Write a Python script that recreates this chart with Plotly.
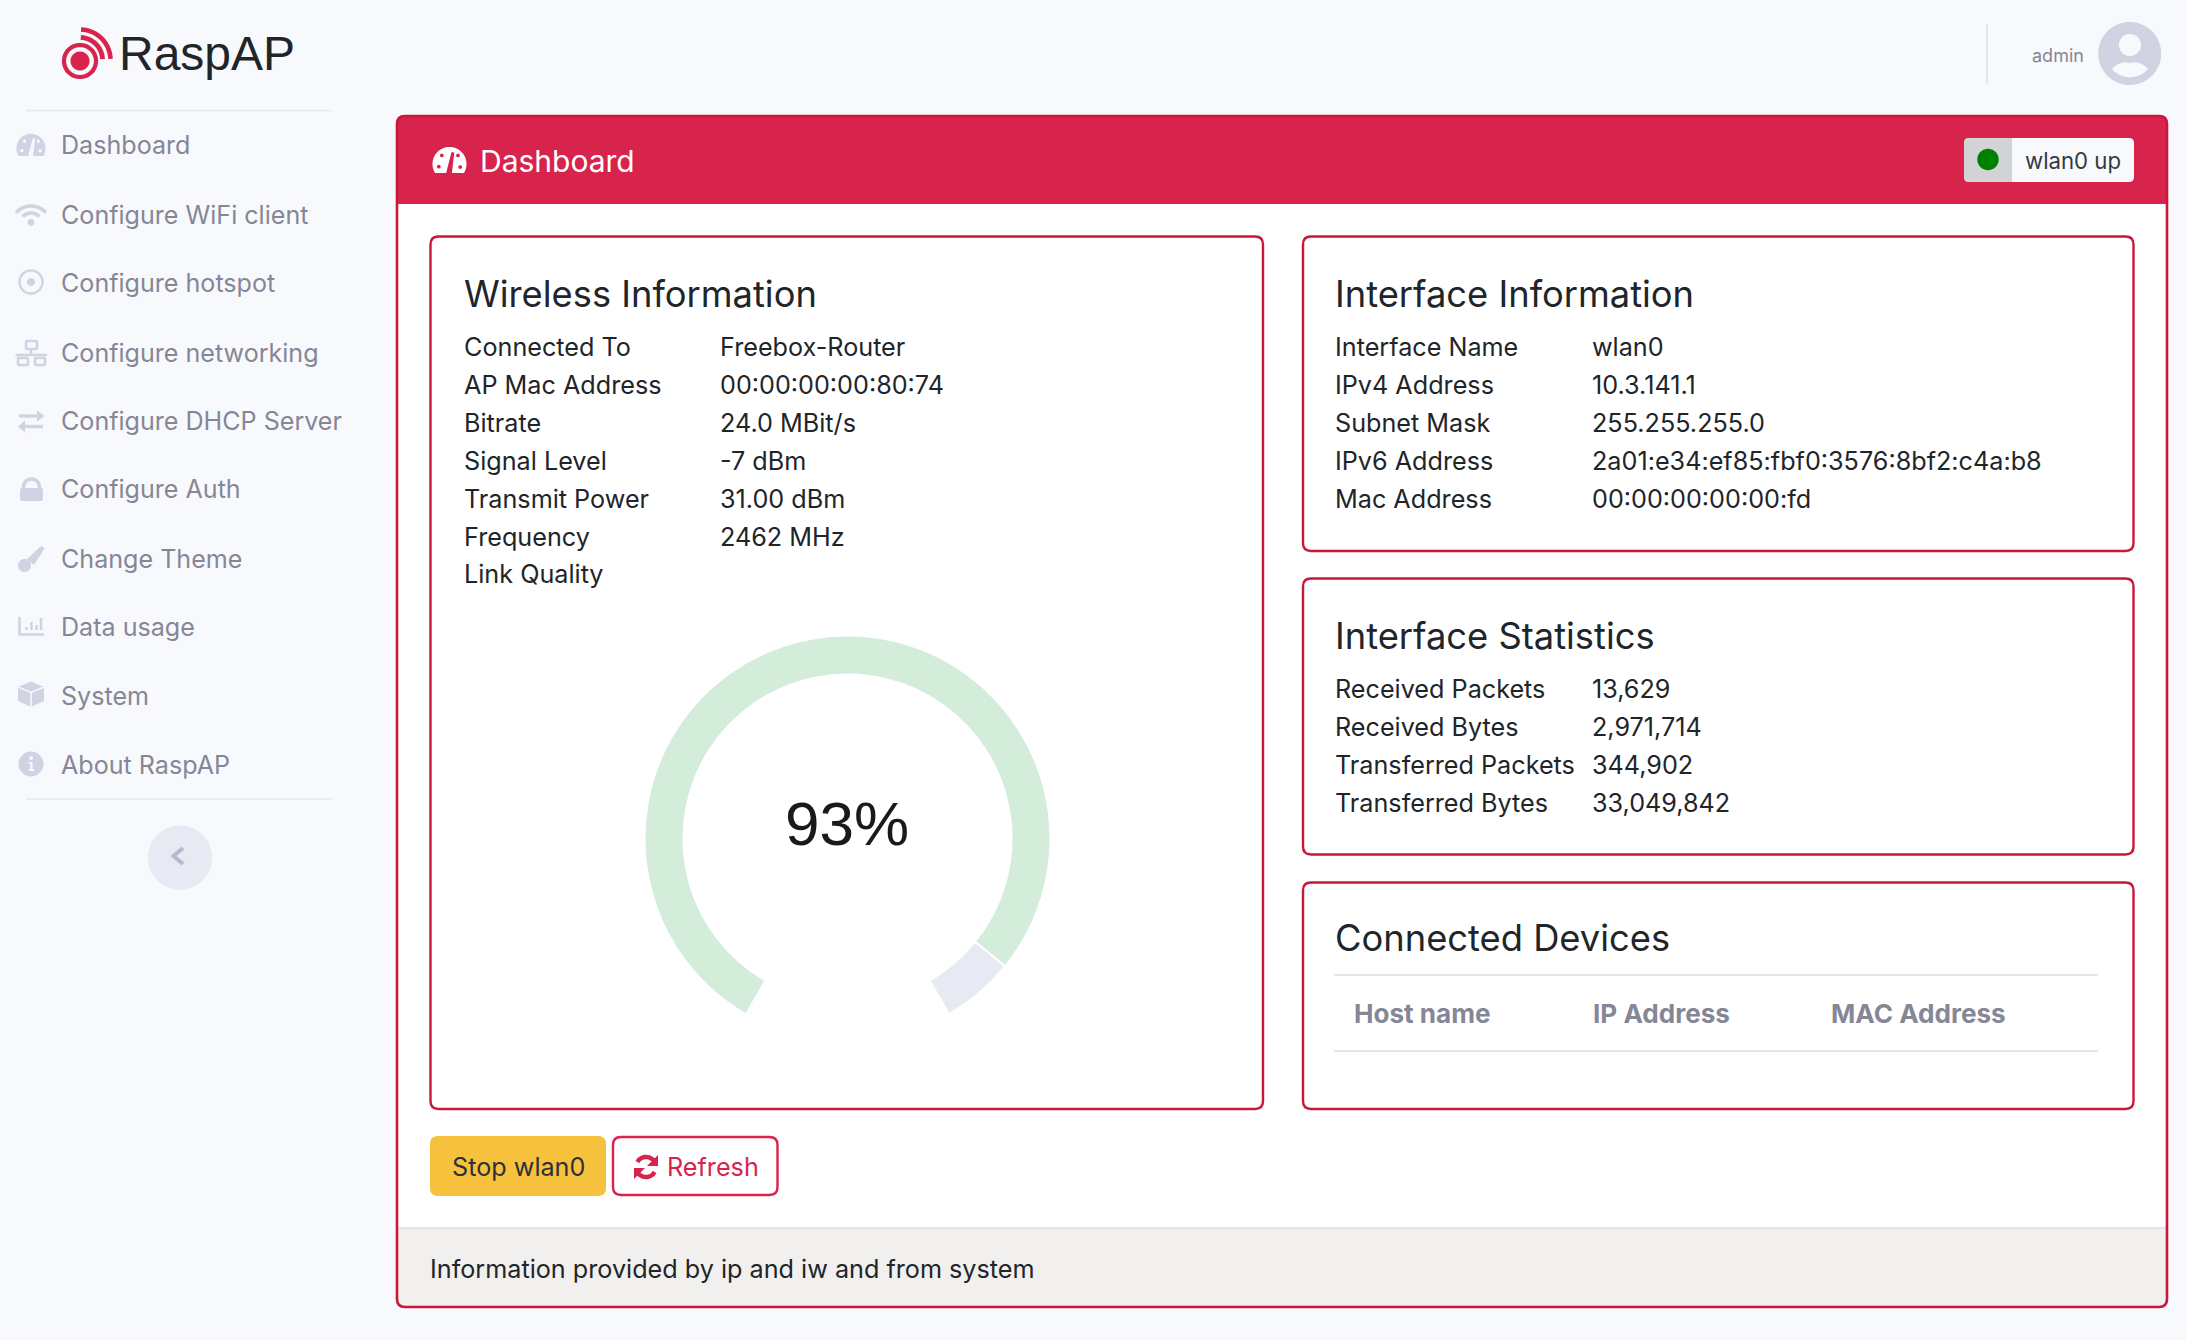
import math
import plotly.graph_objects as go

# ---------- data ----------
gauge_labels = ["Link quality", "Remaining", "Gap"]
gauge_values = [93, 7, 20]
gauge_text = "93%"

menu_items = ["Dashboard", "Configure WiFi client", "Configure hotspot", "Configure networking",
              "Configure DHCP Server", "Configure Auth", "Change Theme", "Data usage", "System", "About RaspAP"]

wireless_keys = ["Connected To", "AP Mac Address", "Bitrate", "Signal Level", "Transmit Power", "Frequency", "Link Quality"]
wireless_vals = ["Freebox-Router", "00:00:00:00:80:74", "24.0 MBit/s", "-7 dBm", "31.00 dBm", "2462 MHz", ""]

iface_keys = ["Interface Name", "IPv4 Address", "Subnet Mask", "IPv6 Address", "Mac Address"]
iface_vals = ["wlan0", "10.3.141.1", "255.255.255.0", "2a01:e34:ef85:fbf0:3576:8bf2:c4a:b8", "00:00:00:00:00:fd"]

stats_keys = ["Received Packets", "Received Bytes", "Transferred Packets", "Transferred Bytes"]
stats_vals = ["13,629", "2,971,714", "344,902", "33,049,842"]

device_cols = ["Host name", "IP Address", "MAC Address"]

# ---------- style ----------
W, H = 2186, 1340
BG = "#f8f9fd"
RED = "#d8234c"
EDGE = "#c9173a"
ICON = "#d1d3e2"
MUTED = "#858796"
DARK = "#212529"
LINE = "#e3e6f0"
FONT = "Inter, sans-serif"
LOGO_FONT = "Liberation Sans, Arial, sans-serif"

shapes, notes = [], []


def add_path(d, fill=None, line=None, width=0, evenodd=False):
    s = dict(type="path", path=d, xref="x", yref="y", layer="below",
             line=dict(color=line or "rgba(0,0,0,0)", width=width),
             fillcolor=fill or "rgba(0,0,0,0)")
    if evenodd:
        s["fillrule"] = "evenodd"
    shapes.append(s)


def rrect(x0, y0, x1, y1, r=8, tl=True, tr=True, br=True, bl=True):
    p = [f"M{x0 + (r if tl else 0)},{y0}", f"L{x1 - (r if tr else 0)},{y0}"]
    if tr:
        p.append(f"Q{x1},{y0} {x1},{y0 + r}")
    p.append(f"L{x1},{y1 - (r if br else 0)}")
    if br:
        p.append(f"Q{x1},{y1} {x1 - r},{y1}")
    p.append(f"L{x0 + (r if bl else 0)},{y1}")
    if bl:
        p.append(f"Q{x0},{y1} {x0},{y1 - r}")
    p.append(f"L{x0},{y0 + (r if tl else 0)}")
    if tl:
        p.append(f"Q{x0},{y0} {x0 + r},{y0}")
    return " ".join(p) + " Z"


def arc_pts(cx, cy, r, a0, a1, n=40):
    """Angles in degrees clockwise from north."""
    out = []
    for i in range(n + 1):
        a = math.radians(a0 + (a1 - a0) * i / n)
        out.append((cx + r * math.sin(a), cy - r * math.cos(a)))
    return out


def poly(pts, close=False):
    d = "M" + " L".join(f"{x:.2f},{y:.2f}" for x, y in pts)
    return d + (" Z" if close else "")


def circle(cx, cy, r, fill=None, line=None, width=0):
    add_path(poly(arc_pts(cx, cy, r, 0, 360, 72), True), fill, line, width)


def arc(cx, cy, r, a0, a1, color, width):
    add_path(poly(arc_pts(cx, cy, r, a0, a1)), None, color, width)


def seg(pts, color, width):
    add_path(poly(pts), None, color, width)


def text(x, y, s, size, color=DARK, anchor="left", font=FONT, weight=400):
    if anchor == "left":
        x -= 1.4
    notes.append(dict(x=x, y=y, xref="x", yref="y", text=s, showarrow=False,
                      xanchor=anchor, yanchor="middle", borderpad=0,
                      font=dict(family=font, size=size, color=color, weight=weight)))


def gauge_icon(cx, base, r, col, hole):
    # circle cut off by a flat base; base is the y of the flat edge
    c = base - 0.53 * r
    add_path(poly(arc_pts(cx, c, r, -122, 122, 48), True), col)
    for dx, dy in [(-0.63, 0.16), (-0.45, -0.5), (0.63, 0.18), (0.5, -0.5)]:
        circle(cx + dx * r, c + dy * r, r * 0.11, hole)
    add_path(poly([(cx - r * 0.2, c + r * 0.55), (cx + r * 0.14, c + r * 0.55),
                   (cx + r * 0.28, c - r * 0.68), (cx + r * 0.12, c - r * 0.7)], True), hole)


# ---------- page furniture ----------
# logo
circle(80, 61, 16, None, RED, 4.2)
circle(80, 61, 9.5, RED)
arc(80, 60, 30.5, 2, 88, RED, 4.6)
arc(80, 60, 22.5, 2, 88, RED, 4.8)
text(119.6, 53, "RaspAP", 48, "#212529", font=LOGO_FONT)

# sidebar separators and toggle
seg([(26, 110.5), (332, 110.5)], "#e9ebf3", 2)
seg([(26, 799), (332, 799)], "#e9ebf3", 2)
circle(180, 857.5, 32, "#e8eaf3")
seg([(183, 848), (173.5, 856), (183, 864)], "#b7b9cc", 4)

# sidebar labels
menu_y = [145, 215, 283, 353, 421, 489, 559, 627, 696, 765]
for label, y in zip(menu_items, menu_y):
    text(61, y, label, 25.1, MUTED)

# sidebar icons
gauge_icon(31, 156, 14.5, ICON, BG)
circle(31, 222.5, 3.4, ICON)
arc(31, 224, 11, -48, 48, ICON, 3.6)
arc(31, 226, 20, -48, 48, ICON, 3.6)
circle(31, 282, 11.5, None, ICON, 2.4)
circle(31, 282, 4, ICON)
add_path(rrect(26, 341, 37, 349, 1), None, ICON, 2.6)
seg([(15.5, 355), (47, 355)], ICON, 2.6)
seg([(31, 349), (31, 355)], ICON, 2.6)
add_path(rrect(18, 358, 28, 365, 1), None, ICON, 2.6)
add_path(rrect(35, 358, 45, 365, 1), None, ICON, 2.6)
seg([(19, 416), (38, 416)], ICON, 3.4)
add_path(poly([(37, 410), (44, 416), (37, 422)], True), ICON)
seg([(24, 426.5), (43, 426.5)], ICON, 3.4)
add_path(poly([(25, 420.5), (18, 426.5), (25, 432.5)], True), ICON)
arc(31.5, 487, 8, -90, 90, ICON, 3.6)
seg([(23.5, 487), (23.5, 490)], ICON, 3.6)
seg([(39.5, 487), (39.5, 490)], ICON, 3.6)
add_path(rrect(20, 488, 43, 501, 2), ICON)
add_path(poly([(39.5, 547.5), (42, 546), (44.5, 548.5), (34, 565), (26.5, 559.5)], True), ICON)
circle(24.5, 565.5, 6.5, ICON)
seg([(19.5, 617), (19.5, 634.5), (44, 634.5)], ICON, 2.6)
for bx, by in [(26.5, 627), (31.5, 622), (36.5, 625), (41, 618)]:
    seg([(bx, by), (bx, 630)], ICON, 2.6)
add_path(poly([(31, 681.5), (44, 687), (44, 701), (31, 707), (18, 701), (18, 687)], True), ICON)
seg([(18, 687), (31, 692.5), (44, 687)], BG, 1.6)
seg([(31, 692.5), (31, 707)], BG, 1.6)
circle(31, 764, 12.5, ICON)
circle(31, 758, 1.9, BG)
seg([(28.8, 763), (31.5, 763), (31.5, 770), (28.8, 770), (34.2, 770)], BG, 2.2)

# top bar
seg([(1987, 24), (1987, 84)], LINE, 2)
text(2058, 55.5, "admin", 18, MUTED, "center")
circle(2129.7, 53.5, 31.5, ICON)
circle(2130, 45, 11, BG)
add_path("M2112,69 Q2120,60 2130,63 Q2140,60 2148,69 Q2141,77 2130,77.5 Q2119,77 2112,69 Z", BG)

# main panel
add_path(rrect(397, 116, 2167, 1307, 8), "#ffffff")
add_path(rrect(397, 116, 2167, 204, 8, br=False, bl=False), RED)
add_path(rrect(397, 1228, 2167, 1307, 8, tl=False, tr=False), "#f1f0ee")
seg([(397, 1228), (2167, 1228)], LINE, 2)
add_path(rrect(397, 116, 2167, 1307, 8), None, EDGE, 2.6)

gauge_icon(449.5, 173, 17, "#ffffff", RED)
text(480.6, 160.5, "Dashboard", 30, "#ffffff")

# status badge
add_path(rrect(1964, 138, 2134, 182, 5), BG)
add_path(rrect(1964, 138, 2012, 182, 5, tr=False, br=False), "#d1d3d4")
circle(1988, 159.5, 10.7, "#008000")
text(2025.5, 160, "wlan0 up", 22.2, "#343a40")

# cards
cards = [(430.5, 236.5, 1263, 1109), (1303, 236.5, 2133.5, 551),
         (1303, 578.5, 2133.5, 854.5), (1303, 882.5, 2133.5, 1109)]
for c in cards:
    add_path(rrect(*c, 8), "#ffffff", EDGE, 2.4)

TITLE = 36.3
ROW = 25.2
text(464, 294, "Wireless Information", TITLE)
for k, v, y in zip(wireless_keys, wireless_vals, [347, 385, 423, 461, 499, 537, 574]):
    text(464, y, k, ROW)
    if v:
        text(720.5, y, v, ROW)

text(1335, 294, "Interface Information", TITLE)
for k, v, y in zip(iface_keys, iface_vals, [347, 385, 423, 461, 499]):
    text(1335, y, k, ROW)
    text(1592, y, v, ROW)

text(1335, 636, "Interface Statistics", TITLE)
for k, v, y in zip(stats_keys, stats_vals, [689, 727, 765, 803]):
    text(1335, y, k, ROW)
    text(1592, y, v, ROW)

text(1335, 938, "Connected Devices", TITLE)
seg([(1334, 975), (2098, 975)], LINE, 2)
seg([(1334, 1051), (2098, 1051)], LINE, 2)
for col, x in zip(device_cols, [1354.5, 1593, 1831]):
    text(x, 1013, col, 26.1, MUTED, weight=700)

# buttons
add_path(rrect(430, 1136, 606, 1196, 8), "#f6c23e")
text(518, 1167, "Stop wlan0", ROW, "#2e2f37", "center")
add_path(rrect(613, 1137, 777.5, 1195, 8), "#ffffff", RED, 2.4)
arc(646, 1167, 10, -60, 75, RED, 4.4)
arc(646, 1167, 10, 120, 255, RED, 4.4)
add_path(poly([(658, 1155), (658, 1166), (647, 1166)], True), RED)
add_path(poly([(634, 1179), (634, 1168), (645, 1168)], True), RED)
text(667, 1167, "Refresh", ROW, RED)

text(430, 1269, "Information provided by ip and iw and from system", ROW)

# ---------- figure ----------
fig = go.Figure()
fig.add_trace(go.Scatter(x=[], y=[], hoverinfo="skip", showlegend=False))
fig.add_trace(go.Pie(
    labels=gauge_labels, values=gauge_values, sort=False, direction="clockwise",
    rotation=210, hole=0.808, textinfo="none", hoverinfo="skip", showlegend=False,
    marker=dict(colors=["#d4edda", "#e8eaf3", "rgba(0,0,0,0)"],
                line=dict(color="#ffffff", width=[2, 2, 0])),
    domain=dict(x=[644.5 / W, 1050.5 / W], y=[1 - 1041.5 / H, 1 - 635.5 / H]),
))
text(847, 823, gauge_text, 62, "#1a1a1a", "center", LOGO_FONT)

fig.update_layout(
    width=W, height=H, autosize=False, margin=dict(l=0, r=0, t=0, b=0),
    paper_bgcolor=BG, plot_bgcolor=BG, showlegend=False,
    xaxis=dict(range=[0, W], visible=False, fixedrange=True),
    yaxis=dict(range=[H, 0], visible=False, fixedrange=True),
    shapes=shapes, annotations=notes,
)
fig.write_html("out.html", config=dict(displayModeBar=False),
               post_script="document.body.style.margin='0';document.body.style.overflow='hidden';")
